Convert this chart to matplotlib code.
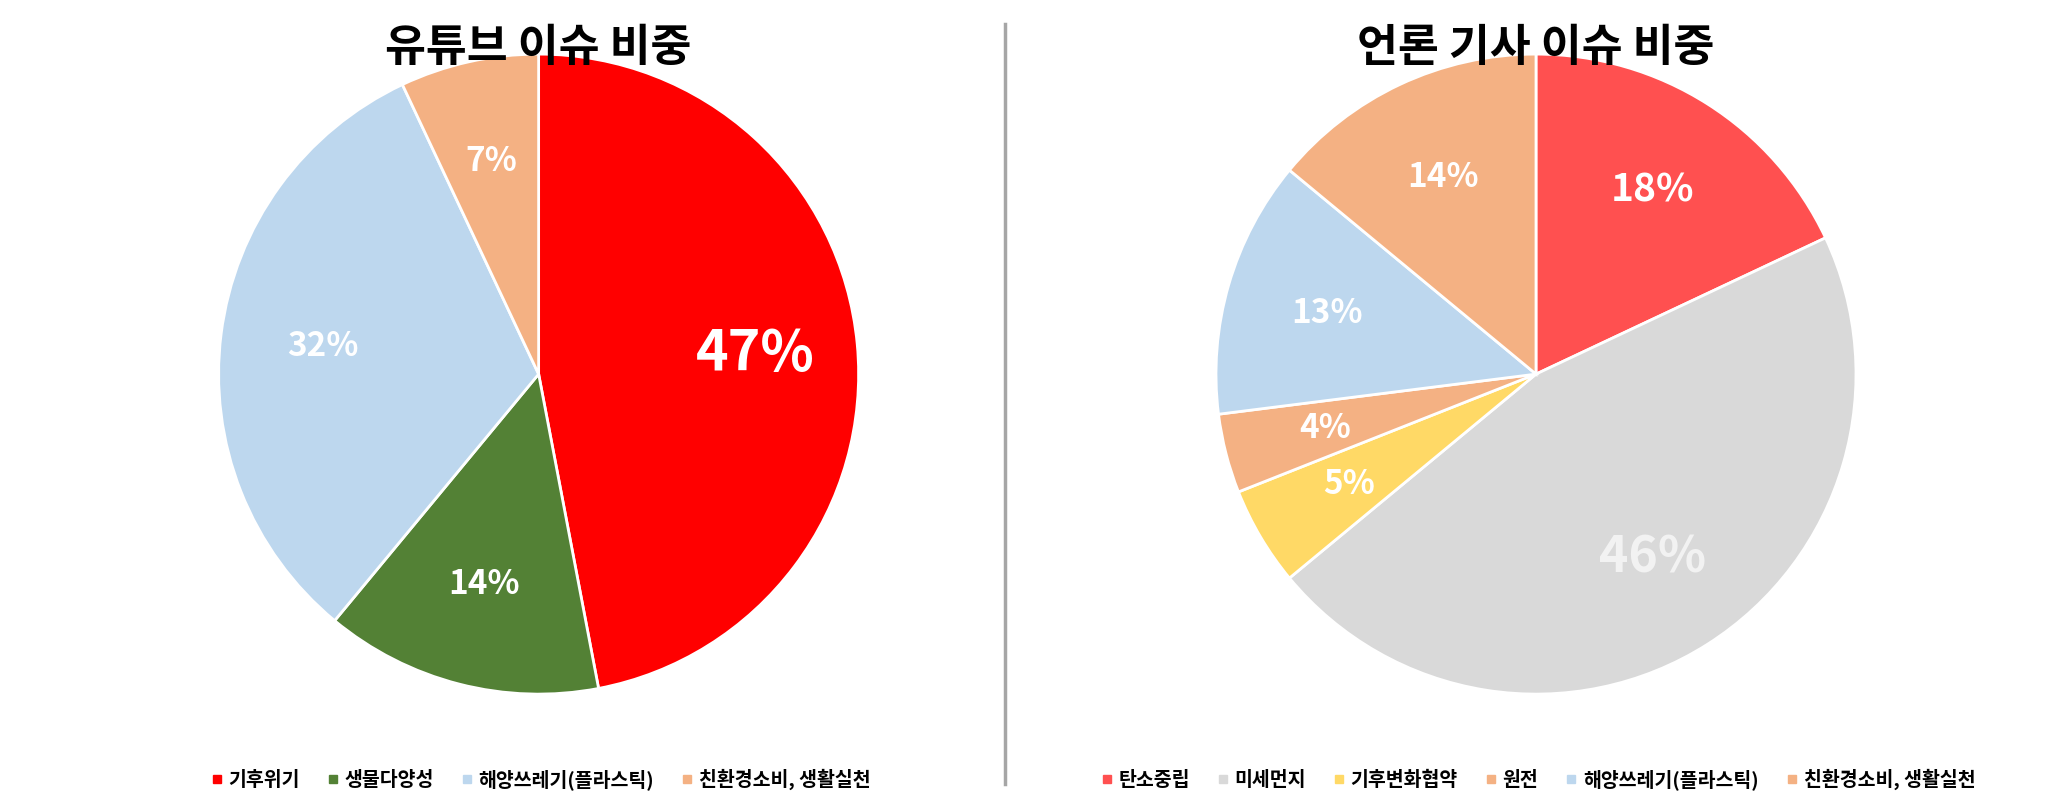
import matplotlib
matplotlib.use("Agg")
import matplotlib.pyplot as plt
from matplotlib.lines import Line2D

plt.rcParams['font.family'] = ['Noto Sans CJK KR', 'DejaVu Sans']

yt_labels = ['기후위기', '생물다양성', '해양쓰레기(플라스틱)', '친환경소비, 생활실천']
yt_values = [47, 14, 32, 7]
yt_colors = ['#FF0000', '#538135', '#BDD7EE', '#F4B183']

news_labels = ['탄소중립', '미세먼지', '기후변화협약', '원전', '해양쓰레기(플라스틱)', '친환경소비, 생활실천']
news_values = [18, 46, 5, 4, 13, 14]
news_colors = ['#FF5050', '#D9D9D9', '#FFD966', '#F4B183', '#BDD7EE', '#F4B183']

fig = plt.figure(figsize=(20.48, 8.08), dpi=100)

def draw(cx, title, labels, values, colors, label_colors, fs):
    h = 0.80
    w = h * 8.08 / 20.48
    ax = fig.add_axes([cx - w / 2, 0.537 - h / 2, w, h])
    wedges, texts = ax.pie(values, colors=colors, startangle=90, counterclock=False,
                           wedgeprops=dict(edgecolor='white', linewidth=2), radius=1.0,
                           labels=[f'{v}%' for v in values], labeldistance=0.68,
                           textprops=dict(fontweight='black'))
    for t, c, f in zip(texts, label_colors, fs):
        t.set_color(c); t.set_fontsize(f)
        t.set_ha('center'); t.set_va('center')
    ax.set_aspect('equal')
    ax.set_xlim(-1.01, 1.01); ax.set_ylim(-1.01, 1.01)
    fig.text(cx, 0.94, title, ha='center', va='center', fontsize=32, fontweight='black')
    handles = [Line2D([], [], marker='s', linestyle='', color=c, markersize=6) for c in colors]
    fig.legend(handles, labels, loc='center', bbox_to_anchor=(cx, 0.035), ncol=len(labels),
               frameon=False, fontsize=14, handletextpad=0.1, columnspacing=1.2,
               handlelength=1.0, prop=dict(weight='bold', size=14))

draw(0.263, '유튜브 이슈 비중', yt_labels, yt_values, yt_colors, ['white'] * 4, [40, 24, 24, 24])
draw(0.75, '언론 기사 이슈 비중', news_labels, news_values, news_colors,
     ['white', '#F2F2F2', 'white', 'white', 'white', 'white'], [28, 36, 24, 24, 24, 24])

fig.add_artist(Line2D([0.4905, 0.4905], [0.03, 0.97], color='#A6A6A6', linewidth=2.5))

fig.savefig('out.png', dpi=100, facecolor='white')
